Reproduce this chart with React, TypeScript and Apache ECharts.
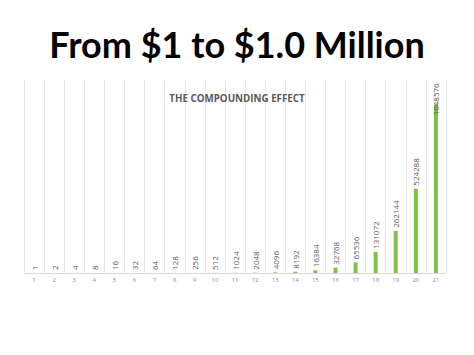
import React, { useEffect, useRef } from "react";
import * as echarts from "echarts";

const mainTitle = "From $1 to $1.0 Million";
const chartTitle = "THE COMPOUNDING EFFECT";
const years = ["1","2","3","4","5","6","7","8","9","10","11","12","13","14","15","16","17","18","19","20","21"];
const balances = [1, 2, 4, 8, 16, 32, 64, 128, 256, 512, 1024, 2048, 4096, 8192, 16384, 32768, 65536, 131072, 262144, 524288, 1048576];

export default function App() {
  const ref = useRef<HTMLDivElement>(null);
  useEffect(() => {
    if (!ref.current) return;
    const chart = echarts.init(ref.current, null, { renderer: "svg" });
    const last = balances.length - 1;
    chart.setOption({
      animation: false,
      backgroundColor: "#ffffff",
      title: [
        {
          text: mainTitle,
          left: "center",
          top: 21,
          textStyle: { fontFamily: "Lato", fontWeight: "bold", fontSize: 36, color: "#000000" },
        },
        {
          text: chartTitle,
          left: "center",
          top: 88,
          textStyle: { fontFamily: "Open Sans", fontWeight: "bold", fontSize: 9.8, color: "#595959" },
        },
      ],
      grid: { left: 24, right: 28, top: 80, bottom: 82 },
      xAxis: {
        type: "category",
        data: years,
        boundaryGap: true,
        axisLine: { show: true, lineStyle: { color: "#d9d9d9", width: 1 } },
        axisTick: { show: false },
        axisLabel: { fontSize: 6, color: "#8c8c8c", margin: 4, fontFamily: "Open Sans" },
        splitLine: { show: true, lineStyle: { color: "#e8e8e8", width: 1 } },
      },
      yAxis: {
        type: "value",
        min: 0,
        max: 1200000,
        interval: 200000,
        show: false,
        splitLine: { show: false },
      },
      series: [
        {
          type: "bar",
          data: balances.map((v, i) =>
            i === last ? { value: v, label: { distance: -11 } } : v
          ),
          barWidth: 4,
          itemStyle: { color: "#7dc242" },
          label: {
            show: true,
            position: "top",
            rotate: 90,
            align: "left",
            verticalAlign: "middle",
            distance: 3,
            fontSize: 8,
            color: "#595959",
            fontFamily: "Open Sans",
          },
        },
      ],
    });
    return () => chart.dispose();
  }, []);
  return (
    <div
      ref={ref}
      style={{ position: "fixed", left: 0, top: 0, width: 474, height: 355, background: "#fff" }}
    />
  );
}
